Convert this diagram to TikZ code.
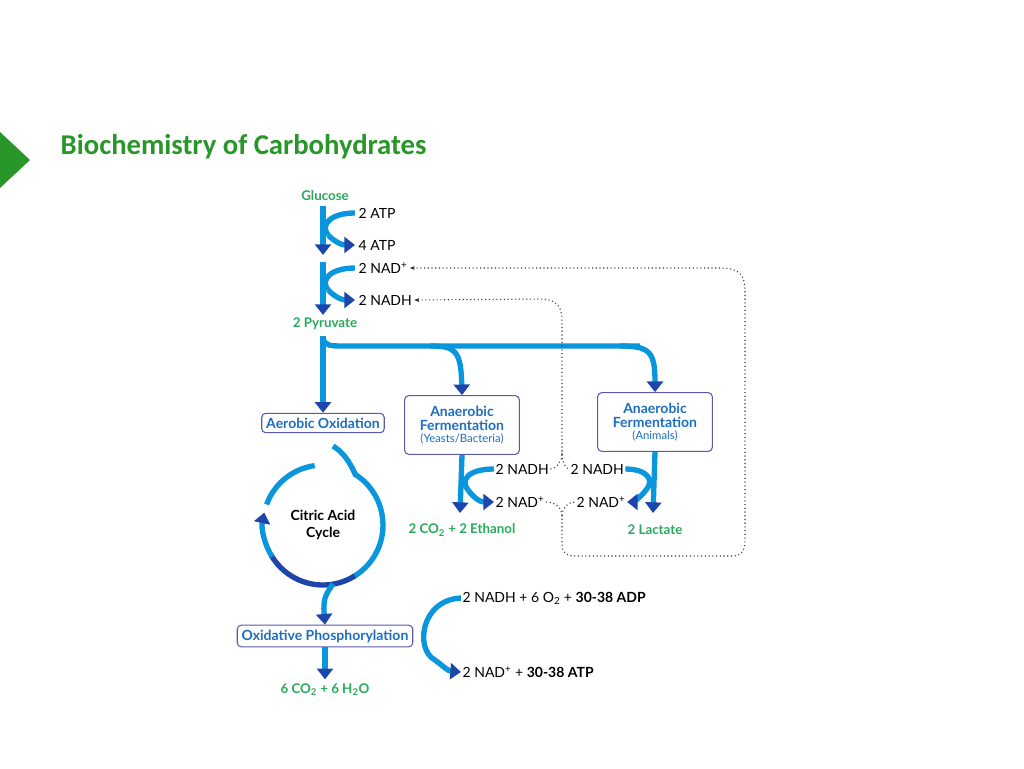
\documentclass[tikz,border=0pt]{standalone}
\usepackage{fontspec}
\setmainfont{Carlito}
\newfontfamily\lab{Lato}
\usetikzlibrary{arrows.meta}
\definecolor{tgreen}{RGB}{40,150,40}
\definecolor{lgreen}{RGB}{40,170,90}
\definecolor{bA}{RGB}{10,150,220}
\definecolor{bB}{RGB}{30,70,170}
\definecolor{boxc}{RGB}{90,90,170}
\definecolor{boxt}{RGB}{30,110,190}
\begin{document}
\begin{tikzpicture}[x=0.75pt,y=-0.75pt,
  flow/.style={draw=bA,line width=4pt,-{Triangle[length=8pt,width=12pt,color=bB]}},
  fl/.style={draw=bA,line width=4pt},
  dot/.style={draw=black!80,line width=0.8pt,dotted},
  dota/.style={dot,-{Latex[length=4pt,width=3pt]}},
  box/.style={draw=boxc,rounded corners=3pt,line width=0.8pt,fill=white,align=center,text=boxt,font=\lab\bfseries\fontsize{10.5}{12}\selectfont},
  g/.style={text=lgreen,font=\lab\bfseries\fontsize{10}{11}\selectfont},
  t/.style={font=\lab\fontsize{10.5}{11}\selectfont,anchor=west,inner sep=1pt}]
\useasboundingbox (0,0) rectangle (1024,768);
\fill[tgreen] (0,132) -- (30,160) -- (0,188) -- cycle;
\node[anchor=west,text=tgreen,font=\bfseries\fontsize{21.5}{24}\selectfont] (title) at (56,147) {Biochemistry of Carbohydrates};

\node[g] (glu) at (325,196) {Glucose};
\node[t] (atp2) at (357,213) {2 ATP};
\node[t] (atp4) at (357,245) {4 ATP};
\node[t] (nad1) at (357,268) {2 NAD\textsuperscript{+}};
\node[t] (nadh1) at (357,300) {2 NADH};
\node[g] (pyr) at (325,324) {2 Pyruvate};

\draw[flow] (323,206) -- (323,255);
\draw[fl] (355,213) .. controls (330,213) and (320,225) .. (328,235);
\draw[flow] (328,235) .. controls (335,242) and (342,245) .. (355,245);
\draw[flow] (323,262) -- (323,315);
\draw[fl] (355,268) .. controls (330,268) and (320,280) .. (328,290);
\draw[flow] (328,290) .. controls (335,297) and (342,300) .. (355,300);

\node[box] (aer) at (323,423) {Aerobic Oxidation};
\node[box,minimum width=86,minimum height=44] (yeast) at (462,425) {Anaerobic\\[-2pt]Fermentation\\[-3pt]{\lab\mdseries\fontsize{8.5}{9}\selectfont(Yeasts/Bacteria)}};
\node[box,minimum width=86,minimum height=44] (anim) at (655,422) {Anaerobic\\[-2pt]Fermentation\\[-3pt]{\lab\mdseries\fontsize{8.5}{9}\selectfont(Animals)}};

\draw[flow] (323,336) -- (aer.north);
\draw[fl] (323,338) .. controls (325,346) and (330,346) .. (345,346) -- (640,346);
\draw[flow] (430,346) .. controls (455,346) and (461,350) .. (yeast.north);
\draw[flow] (620,346) .. controls (650,346) and (655,352) .. (anim.north);

% citric acid cycle
\node[circle,minimum size=116,font=\lab\bfseries\fontsize{10.5}{13}\selectfont,align=center] (cac) at (323,525) {Citric Acid\\Cycle};
\draw[fl] (cac.center) ++(-57:60) arc[start angle=-57,end angle=60,radius=60];
\draw[line width=4pt,bB] (cac.center) ++(58:60) arc[start angle=58,end angle=150,radius=60];
\draw[flow] (cac.center) ++(148:60) arc[start angle=148,end angle=192,radius=60];
\draw[fl] (cac.center) ++(200:60) arc[start angle=200,end angle=262,radius=60];
\draw[fl] (333,446) .. controls (343,452) and (350,462) .. (356,476);

\node[box] (ox) at (325,636) {Oxidative Phosphorylation};
\draw[flow] (333,584) .. controls (325,595) and (323,600) .. (ox.north);
\node[g] (co2) at (325,690) {6 CO\textsubscript{2} + 6 H\textsubscript{2}O};
\draw[flow] (ox.south) -- (co2.north);
\node[t] (oin) at (461,598) {2 NADH + 6 O\textsubscript{2} + \textbf{30-38 ADP}};
\node[t] (oout) at (461,672) {2 NAD\textsuperscript{+} + \textbf{30-38 ATP}};
\draw[fl] (oin.west) .. controls (420,600) and (415,650) .. (435,660);
\draw[flow] (435,660) .. controls (443,666) and (448,671) .. (oout.west);

% ethanol
\node[t] (ynadh) at (494,469) {2 NADH};
\node[t] (ynad) at (494,502) {2 NAD\textsuperscript{+}};
\node[g] (eth) at (462,530) {2 CO\textsubscript{2} + 2 Ethanol};
\draw[flow] (yeast.south) -- (460,513);
\draw[fl] (ynadh.west) .. controls (468,469) and (460,480) .. (468,490);
\draw[flow] (468,490) .. controls (474,498) and (480,502) .. (ynad.west);

% lactate
\node[t] (anadh) at (569,469) {2 NADH};
\node[t] (anad) at (575,502) {2 NAD\textsuperscript{+}};
\node[g] (lac) at (655,530) {2 Lactate};
\draw[flow] (anim.south) -- (653,513);
\draw[fl] (anadh.east) .. controls (647,469) and (655,480) .. (646,490);
\draw[flow] (646,490) .. controls (640,498) and (632,502) .. (anad.east);

% dotted
\draw[dota] (562,455) -- (562,320) .. controls (562,305) and (555,299) .. (540,299) -- (nadh1.east);
\draw[dot] (ynadh.east) .. controls (555,469) and (562,462) .. (562,455) .. controls (562,462) and (566,469) .. (anadh.west);
\draw[dota] (562,515) -- (562,545) .. controls (562,552) and (566,556) .. (575,556) -- (732,556) .. controls (742,556) and (745,550) .. (745,540) -- (745,292) .. controls (745,275) and (740,268) .. (720,268) -- (nad1.east);
\draw[dot] (ynad.east) .. controls (555,502) and (562,508) .. (562,515) .. controls (562,508) and (568,502) .. (anad.west);
\end{tikzpicture}
\end{document}
